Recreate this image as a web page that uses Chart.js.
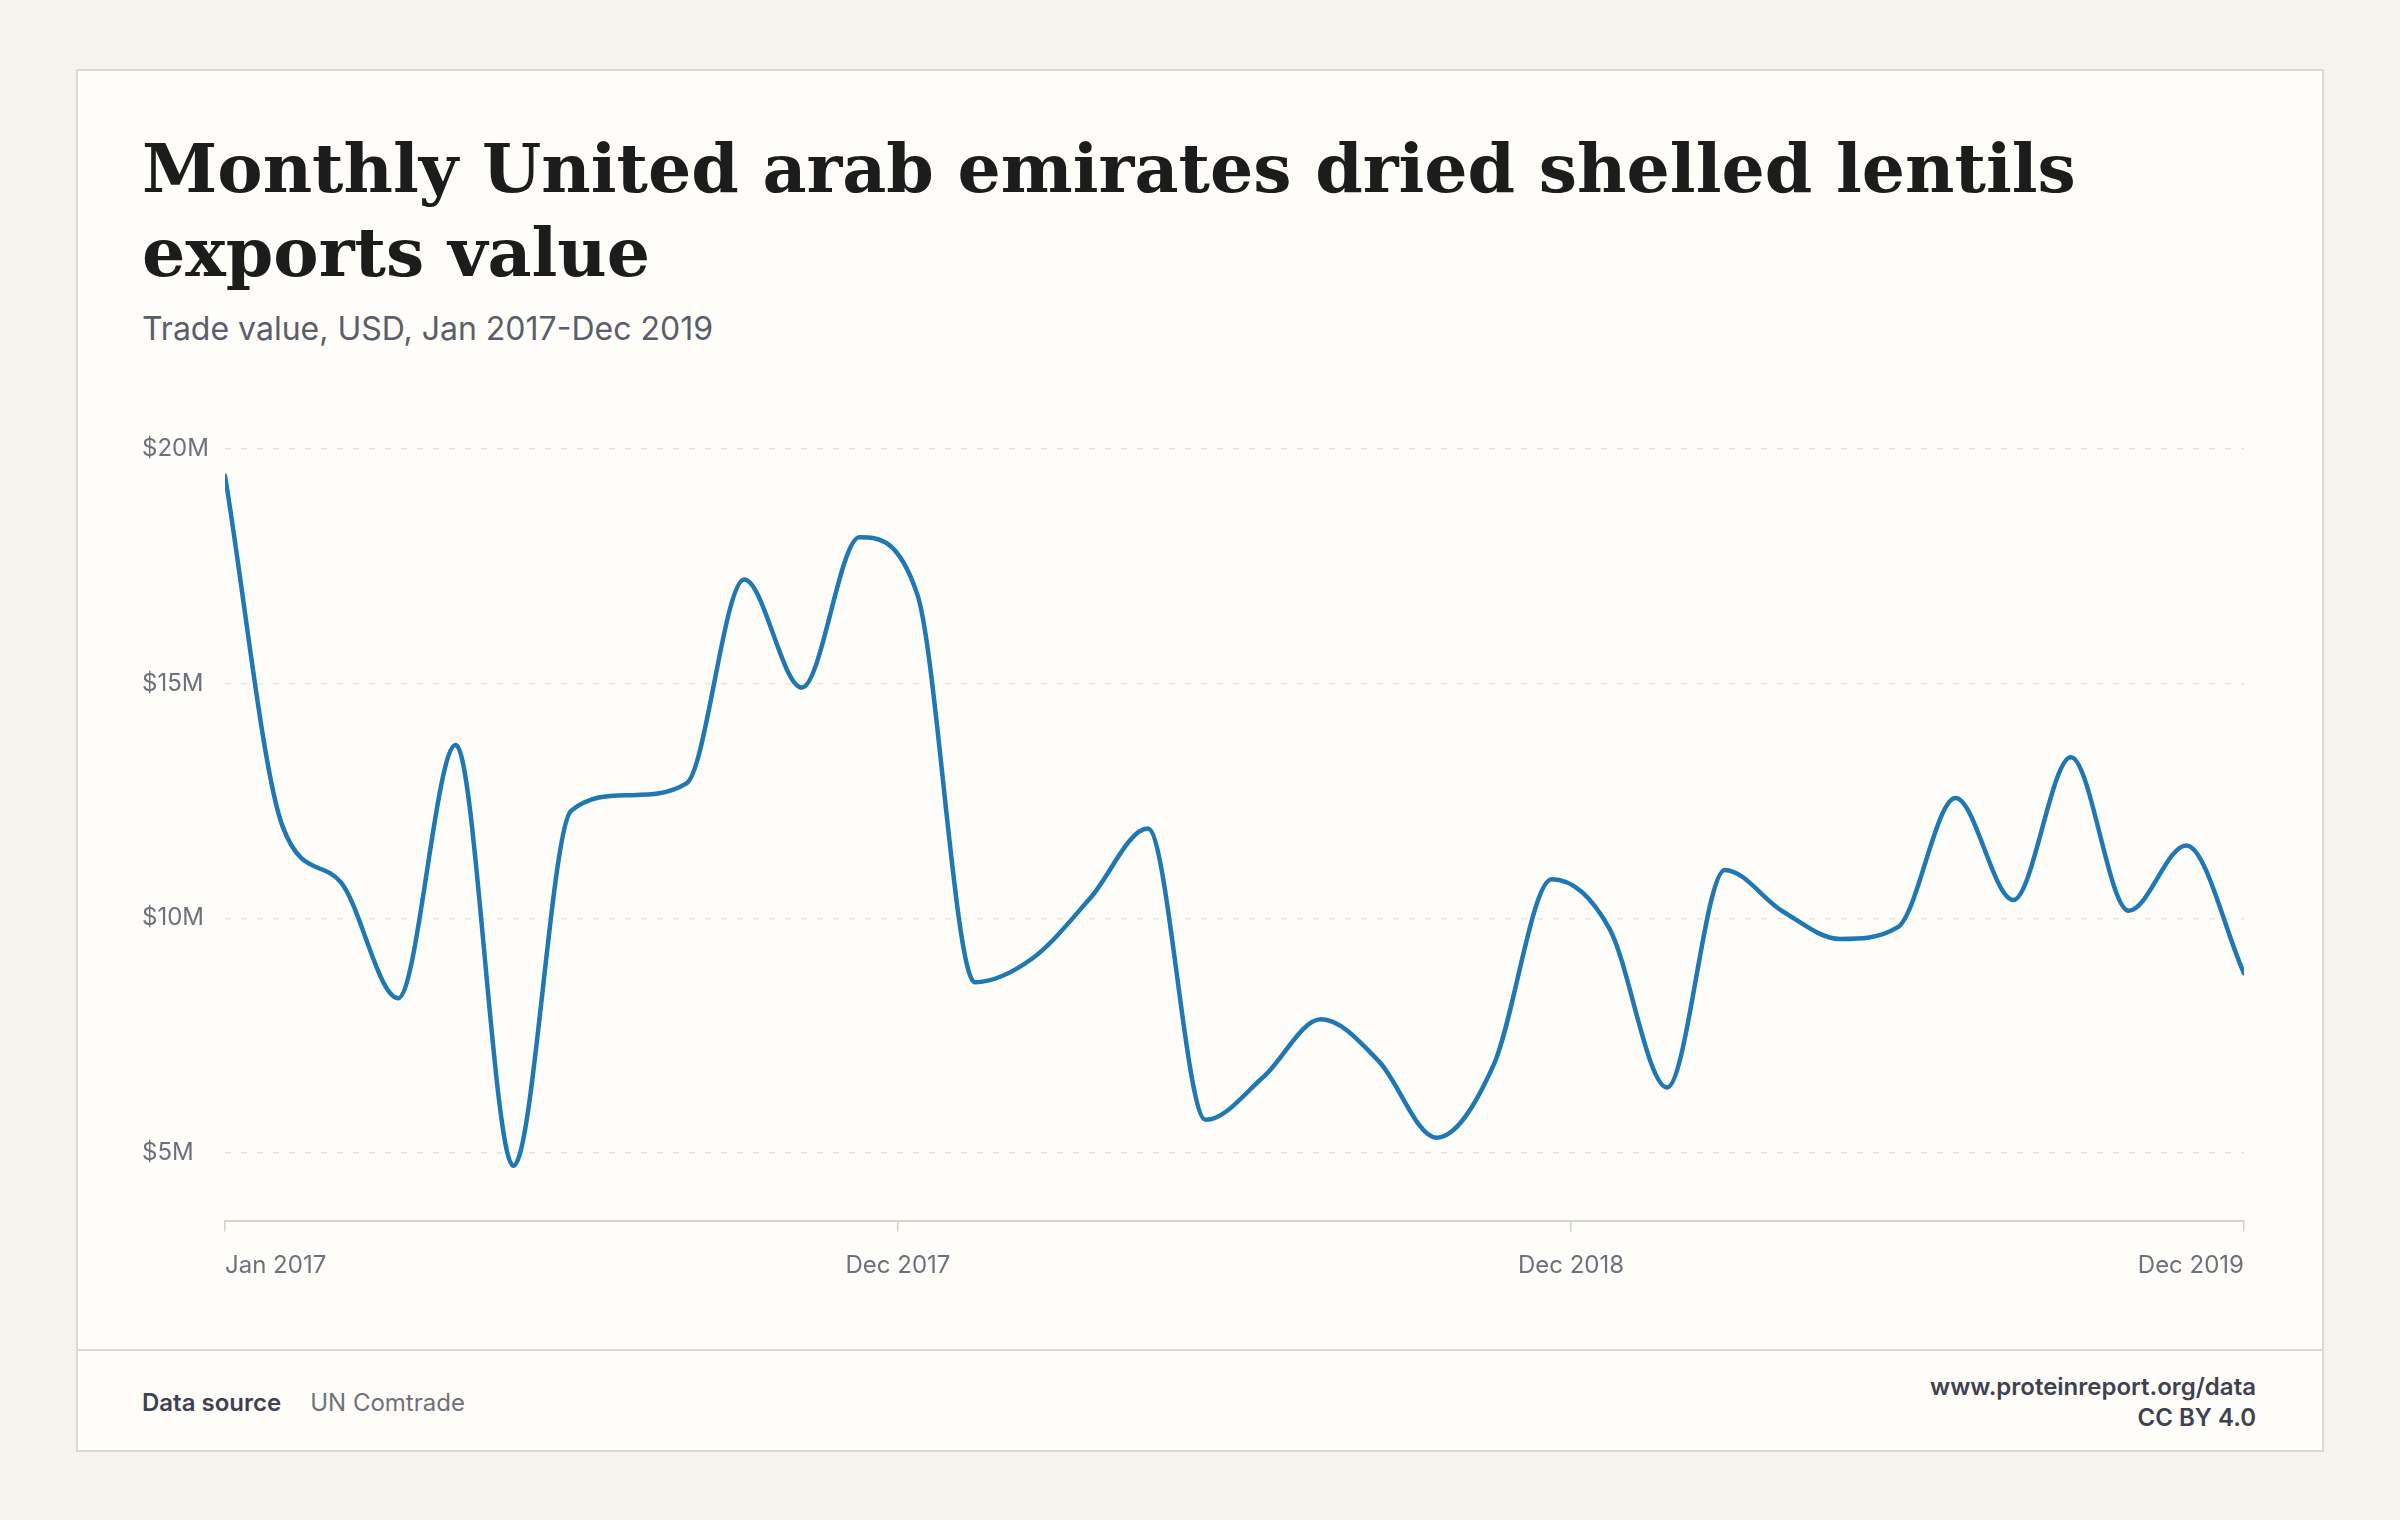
<!DOCTYPE html>
<html>
<head>
<meta charset="utf-8">
<script src="https://cdn.jsdelivr.net/npm/chart.js@4.4.0/dist/chart.umd.min.js"></script>
<style>
  html, body { margin: 0; padding: 0; }
  body { width: 2400px; height: 1520px; background: #f5f3ee; position: relative; font-family: Inter, "Noto Sans", sans-serif; }
  .card { position: absolute; left: 76px; top: 69px; width: 2244px; height: 1379px; background: #fefdf9; border: 2px solid #dcd9d1; }
  .foot-line { position: absolute; left: 78px; top: 1349px; width: 2244px; height: 2px; background: #dcd9d1; }
  .title { position: absolute; left: 142px; top: 126px; font-family: "DejaVu Serif", "Liberation Serif", serif; font-weight: bold; font-size: 68px; line-height: 84px; color: #1c1c1c; white-space: nowrap; }
  .subtitle { position: absolute; left: 142px; top: 310px; font-size: 32px; line-height: 38px; color: #5a5e6a; }
  .chart-box { position: absolute; left: 142px; top: 420px; width: 2122px; height: 880px; }
  .src { position: absolute; left: 142px; top: 1388px; font-size: 24px; line-height: 29px; color: #6e717b; }
  .src b { color: #3e4250; font-weight: 600; margin-right: 29px; }
  .lic { position: absolute; right: 144px; top: 1371px; font-size: 24px; line-height: 31px; color: #3e4250; font-weight: 600; text-align: right; }
</style>
</head>
<body>
<div class="card"></div>
<div class="foot-line"></div>
<div class="title">Monthly United arab emirates dried shelled lentils<br>exports value</div>
<div class="subtitle">Trade value, USD, Jan 2017-Dec 2019</div>
<div class="chart-box"><canvas id="lineChart"></canvas></div>
<div class="src"><b>Data source</b>UN Comtrade</div>
<div class="lic">www.proteinreport.org/data<br>CC BY 4.0</div>

<script>
// months on the x axis
var months = [
  "Jan 2017", "Feb 2017", "Mar 2017", "Apr 2017", "May 2017", "Jun 2017",
  "Jul 2017", "Aug 2017", "Sep 2017", "Oct 2017", "Nov 2017", "Dec 2017",
  "Jan 2018", "Feb 2018", "Mar 2018", "Apr 2018", "May 2018", "Jun 2018",
  "Jul 2018", "Aug 2018", "Sep 2018", "Oct 2018", "Nov 2018", "Dec 2018",
  "Jan 2019", "Feb 2019", "Mar 2019", "Apr 2019", "May 2019", "Jun 2019",
  "Jul 2019", "Aug 2019", "Sep 2019", "Oct 2019", "Nov 2019", "Dec 2019"
];

// export value, million USD
var exportValue = [
  19.42, 11.95, 10.78, 8.30, 13.69, 4.73,
  12.29, 12.62, 12.87, 17.21, 14.91, 18.11,
  16.90, 8.64, 9.15, 10.43, 11.91, 5.71,
  6.62, 7.85, 6.96, 5.33, 6.90, 10.83,
  9.78, 6.40, 11.03, 10.15, 9.56, 9.81,
  12.56, 10.39, 13.43, 10.16, 11.55, 8.83
];

// tick values
var yTicks = [5, 10, 15, 20];
var xTickPos = [0, 35 / 3, 70 / 3, 35];

var points = exportValue.map(function (v, i) {
  return { x: i, y: v };
});

var ctx = document.getElementById("lineChart").getContext("2d");
var myLineChart = new Chart(ctx, {
  type: "line",
  data: {
    datasets: [{
      data: points,
      borderColor: "#1f77b4",
      borderWidth: 4.5,
      pointRadius: 0,
      fill: false,
      cubicInterpolationMode: "monotone",
      borderCapStyle: "round",
      borderJoinStyle: "round"
    }]
  },
  options: {
    responsive: true,
    maintainAspectRatio: false,
    animation: false,
    layout: { padding: { top: 28.5, right: 0, left: 0, bottom: 0 } },
    plugins: { legend: { display: false }, tooltip: { enabled: false } },
    scales: {
      x: {
        type: "linear",
        min: 0,
        max: months.length - 1,
        afterBuildTicks: function (scale) {
          scale.ticks = xTickPos.map(function (v) { return { value: v }; });
        },
        afterFit: function (scale) { scale.height = 78.6; },
        grid: { drawOnChartArea: false, drawTicks: true, tickLength: 10, color: "#d6d3cb", lineWidth: 1.5 },
        border: { display: true, color: "#d6d3cb", width: 2 },
        ticks: {
          align: "inner",
          maxRotation: 0,
          autoSkip: false,
          padding: 20,
          color: "#6e717b",
          font: { family: "Inter", size: 24 },
          callback: function (v) { return months[Math.floor(v + 1e-6)]; }
        }
      },
      y: {
        min: Math.min.apply(null, exportValue) * 0.75,
        max: 20,
        afterBuildTicks: function (scale) {
          scale.ticks = yTicks.map(function (v) { return { value: v }; });
        },
        afterFit: function (scale) { scale.width = 83; },
        grid: { drawTicks: false, color: "#e9e6df", lineWidth: 1.5 },
        border: { display: false, dash: [6, 10] },
        ticks: {
          crossAlign: "far",
          color: "#6e717b",
          font: { family: "Inter", size: 24 },
          callback: function (v) { return "$" + v + "M"; }
        }
      }
    }
  }
});
</script>
</body>
</html>
